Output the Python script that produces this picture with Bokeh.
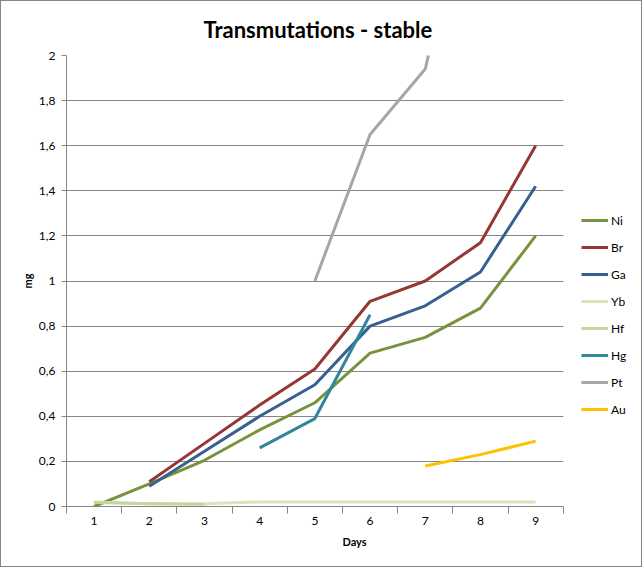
from bokeh.plotting import figure
from bokeh.models import FixedTicker, Legend, LegendItem, Range1d, BoxAnnotation
from bokeh.embed import file_html
from bokeh.resources import INLINE

nan = float("nan")

days = [1, 2, 3, 4, 5, 6, 7, 8, 9]
day_labels = ["1", "2", "3", "4", "5", "6", "7", "8", "9"]

ni = [0.0, 0.10, 0.205, 0.34, 0.46, 0.68, 0.75, 0.88, 1.20]
br = [nan, 0.11, 0.28, 0.45, 0.61, 0.91, 1.00, 1.17, 1.60]
ga = [nan, 0.09, 0.245, 0.40, 0.54, 0.80, 0.89, 1.04, 1.42]
yb = [0.02, 0.012, 0.012, 0.02, 0.02, 0.02, 0.02, 0.02, 0.02]
hf = [0.018, 0.012, 0.010, nan, nan, nan, nan, nan, nan]
hg = [nan, nan, nan, 0.26, 0.39, 0.85, nan, nan, nan]
pt = [nan, nan, nan, nan, 1.00, 1.65, 1.94, 3.0, nan]
au = [nan, nan, nan, nan, nan, nan, 0.18, 0.23, 0.29]

series_names = ["Ni", "Br", "Ga", "Yb", "Hf", "Hg", "Pt", "Au"]
series_values = [ni, br, ga, yb, hf, hg, pt, au]
series_colors = ["#77933C", "#953735", "#376092", "#D7E4BD", "#C3D69B",
                 "#31859C", "#A6A6A6", "#FFC000"]

y_ticks = [0, 0.2, 0.4, 0.6, 0.8, 1.0, 1.2, 1.4, 1.6, 1.8, 2.0]
y_tick_labels = ["0", "0,2", "0,4", "0,6", "0,8", "1", "1,2", "1,4", "1,6", "1,8", "2"]

FONT = "Lato"
GRID = "#868686"

# plot area: categories occupy 495 px of a 574 px wide frame; the rest holds the legend
X0, X1 = 0.5, 9.5
CAT_PX = 495.0
FRAME_W = 574.0
x_end = X0 + (X1 - X0) * FRAME_W / CAT_PX

p = figure(width=642, height=567, output_backend="svg", toolbar_location=None,
           x_range=Range1d(X0, x_end), y_range=Range1d(0, 2),
           title="Transmutations - stable")
p.min_border_left = 65
p.min_border_right = 1
p.min_border_top = 54
p.min_border_bottom = 62
p.outline_line_color = None
p.background_fill_color = "white"
p.border_fill_color = "white"
p.styles = {"border": "1px solid #868686"}

p.title.text_font = FONT
p.title.text_font_size = "22px"
p.title.text_font_style = "bold"
p.title.align = "left"
p.title.offset = 137
p.title.text_color = "black"
p.title.standoff = 25

# x axis: labels at category centres, tick marks between categories
p.xaxis.bounds = (X0, X1)
p.xaxis.ticker = FixedTicker(ticks=days, minor_ticks=[d - 0.5 for d in days] + [days[-1] + 0.5])
p.xaxis.major_label_overrides = {d: l for d, l in zip(days, day_labels)}
p.xaxis.major_tick_out = 0
p.xaxis.major_tick_in = 0
p.xaxis.minor_tick_out = 7
p.xaxis.minor_tick_in = 0
p.xaxis.minor_tick_line_color = GRID
p.xaxis.axis_line_color = GRID
p.xaxis.major_label_text_font = FONT
p.xaxis.major_label_text_font_size = "12px"
p.xaxis.major_label_text_color = "black"
p.xaxis.major_label_standoff = 3
p.xaxis.axis_label = "Days"
p.xaxis.axis_label_text_font = FONT
p.xaxis.axis_label_text_font_size = "11px"
p.xaxis.axis_label_text_font_style = "bold"
p.xaxis.axis_label_text_color = "black"
p.xaxis.axis_label_standoff = 7

p.yaxis.ticker = FixedTicker(ticks=y_ticks, minor_ticks=[])
p.yaxis.major_label_overrides = {t: l for t, l in zip(y_ticks, y_tick_labels)}
p.yaxis.major_tick_out = 5
p.yaxis.major_tick_in = 0
p.yaxis.major_tick_line_color = GRID
p.yaxis.axis_line_color = GRID
p.yaxis.major_label_text_font = FONT
p.yaxis.major_label_text_font_size = "12px"
p.yaxis.major_label_text_color = "black"
p.yaxis.major_label_standoff = 6
p.yaxis.axis_label = "mg"
p.yaxis.axis_label_text_font = FONT
p.yaxis.axis_label_text_font_size = "11px"
p.yaxis.axis_label_text_font_style = "bold"
p.yaxis.axis_label_text_color = "black"
p.yaxis.axis_label_standoff = 2

p.xgrid.grid_line_color = None
p.ygrid.grid_line_color = GRID
p.ygrid.ticker = FixedTicker(ticks=y_ticks[1:])

# blank out gridlines in the legend area to the right of the category axis
p.add_layout(BoxAnnotation(left=X1, fill_color="white", fill_alpha=1.0,
                           line_color=None, level="underlay"))

items = []
for name, vals, col in zip(series_names, series_values, series_colors):
    r = p.line(days, vals, line_color=col, line_width=3, line_join="round")
    items.append(LegendItem(label=name, renderers=[r]))

legend = Legend(items=items, location=(515, 87), orientation="vertical")
legend.border_line_color = None
legend.background_fill_alpha = 0
legend.padding = 0
legend.margin = 0
legend.spacing = 7
legend.glyph_width = 27
legend.glyph_height = 20
legend.label_height = 20
legend.label_standoff = 3
legend.label_text_font = FONT
legend.label_text_font_size = "12px"
legend.label_text_color = "black"
p.add_layout(legend, "center")

open("out.html", "w").write(file_html(p, INLINE))
